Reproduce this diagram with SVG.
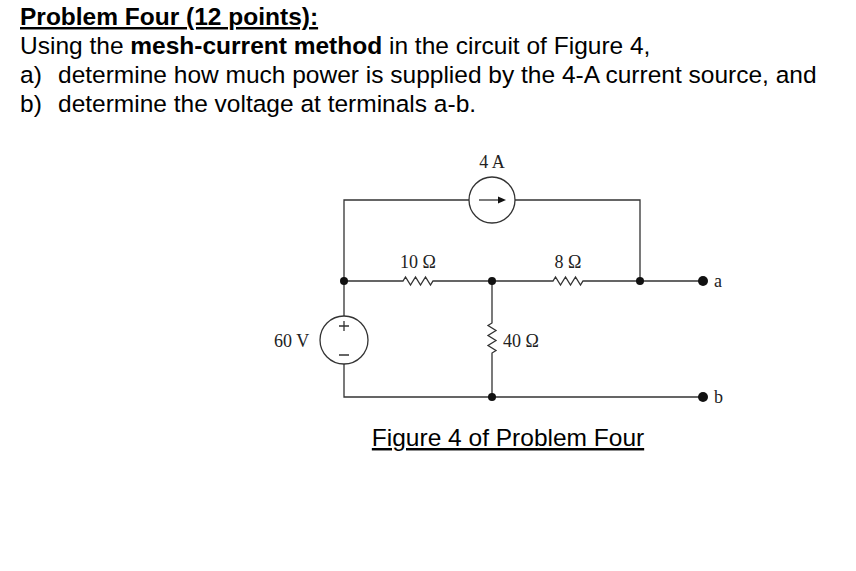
<svg xmlns="http://www.w3.org/2000/svg" width="856" height="571" viewBox="0 0 856 571">
<style>
.t{font-family:"Liberation Sans",Arial,sans-serif;font-size:24.5px;fill:#000}
.c{font-family:"Liberation Serif","Times New Roman",serif;font-size:18px;fill:#222}
.w{stroke:#333;stroke-width:1.3;fill:none}
.d{fill:#111}
</style>
<rect width="856" height="571" fill="#fff"/>
<g id="text">
<text class="t" x="20" y="25" font-weight="bold" text-decoration="underline">Problem Four (12 points):</text>
<text class="t" x="20" y="54">Using the <tspan font-weight="bold">mesh-current method</tspan> in the circuit of Figure 4,</text>
<text class="t" x="20" y="83">a)<tspan x="58">determine how much power is supplied by the 4-A current source, and</tspan></text>
<text class="t" x="20" y="112">b)<tspan x="58">determine the voltage at terminals a-b.</tspan></text>
<text class="t" x="508" y="446" text-anchor="middle" text-decoration="underline">Figure 4 of Problem Four</text>
</g>
<g id="connectors">
<path class="w" d="M344 281 V200 H469 M515 200 H640 V281"/>
<path class="w" d="M344 281 H403 l2.5 -4 l5 8 l5 -8 l5 8 l5 -8 l5 8 l2.5 -4 H553 l2.5 -4 l5 8 l5 -8 l5 8 l5 -8 l5 8 l2.5 -4 H703"/>
<path class="w" d="M344 281 V316 M344 364 V397 H703"/>
<path class="w" d="M492 281 V323 l-4 2.5 l8 5 l-8 5 l8 5 l-8 5 l8 5 l-4 2.5 V397"/>
</g>
<g id="isrc">
<circle class="w" cx="492" cy="200" r="23"/>
<path class="w" d="M479 200 H500"/>
<path class="d" d="M506 200 l-8 -3.5 v7 z"/>
<text class="c" x="492" y="168" text-anchor="middle">4 A</text>
</g>
<g id="vsrc">
<circle class="w" cx="344" cy="340" r="24"/>
<path class="w" d="M339 326 h10 M344 321 v10 M339 355 h10"/>
<text class="c" x="274" y="347">60 V</text>
</g>
<g id="r10"><text class="c" x="418" y="268" text-anchor="middle">10 Ω</text></g>
<g id="r8"><text class="c" x="568" y="268" text-anchor="middle">8 Ω</text></g>
<g id="r40"><text class="c" x="503" y="347">40 Ω</text></g>
<g id="nodes">
<circle class="d" cx="344" cy="281" r="4"/>
<circle class="d" cx="492" cy="281" r="4"/>
<circle class="d" cx="640" cy="281" r="4"/>
<circle class="d" cx="492" cy="397" r="4"/>
<circle class="d" cx="703" cy="281" r="5"/>
<circle class="d" cx="703" cy="397" r="5"/>
<text class="c" x="714" y="287">a</text>
<text class="c" x="714" y="403">b</text>
</g>
</svg>
